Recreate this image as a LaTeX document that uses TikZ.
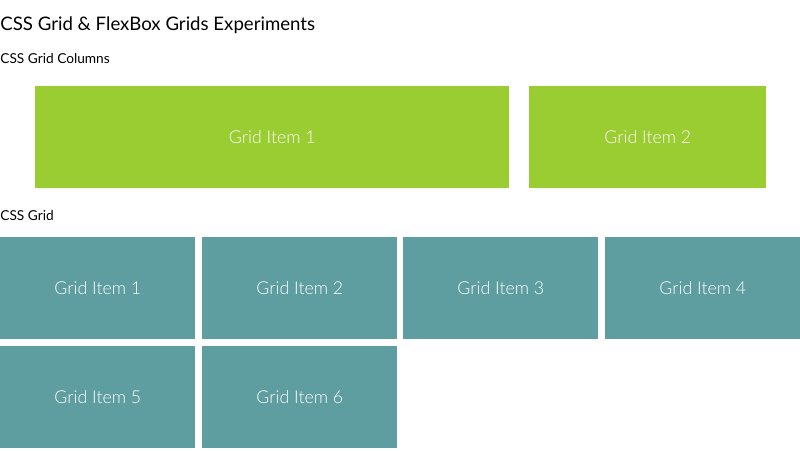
\documentclass[tikz,border=0pt]{standalone}
\usepackage{fontspec}
\setmainfont{Lato}
\newfontfamily\itemfont{Lato Light}
\usetikzlibrary{positioning}
\definecolor{colgreen}{HTML}{9ACD32}
\definecolor{colteal}{HTML}{5F9EA0}
\tikzset
{%
heading/.style={anchor=base west, inner sep=0pt, font=\fontsize{10.6}{13}\selectfont},
subheading/.style={anchor=base west, inner sep=0pt, font=\fontsize{7.8}{10}\selectfont},
colbox/.style={fill=colgreen, anchor=north west, inner sep=0pt, text=white,
	font=\itemfont\fontsize{10.1}{12}\selectfont},
gridbox/.style={fill=colteal, anchor=north west, inner sep=0pt, text=white,
	minimum width=3.9cm, minimum height=2.04cm,
	font=\itemfont\fontsize{10.1}{12}\selectfont}
}
\begin{document}
\begin{tikzpicture}[x=0.02cm, y=-0.02cm]
	\useasboundingbox (0,0) rectangle (800,450);
	
	% headings
	\node[heading] (title) at (0,30) {CSS Grid \& FlexBox Grids Experiments};
	\node[subheading] (cols) at (0,63) {CSS Grid Columns};
	\node[subheading] (grid) at (0,220) {CSS Grid};
	
	% grid columns
	\node[colbox, minimum width=9.48cm, minimum height=2.04cm] (c1) at (35,86) {Grid Item 1};
	\node[colbox, minimum width=4.74cm, minimum height=2.04cm] (c2) at (529,86) {Grid Item 2};
	
	% grid
	\node[gridbox] (g1) at (0,237) {Grid Item 1};
	\node[gridbox] (g2) at (202,237) {Grid Item 2};
	\node[gridbox] (g3) at (403,237) {Grid Item 3};
	\node[gridbox] (g4) at (605,237) {Grid Item 4};
	\node[gridbox] (g5) at (0,346) {Grid Item 5};
	\node[gridbox] (g6) at (202,346) {Grid Item 6};
\end{tikzpicture}
\end{document}
